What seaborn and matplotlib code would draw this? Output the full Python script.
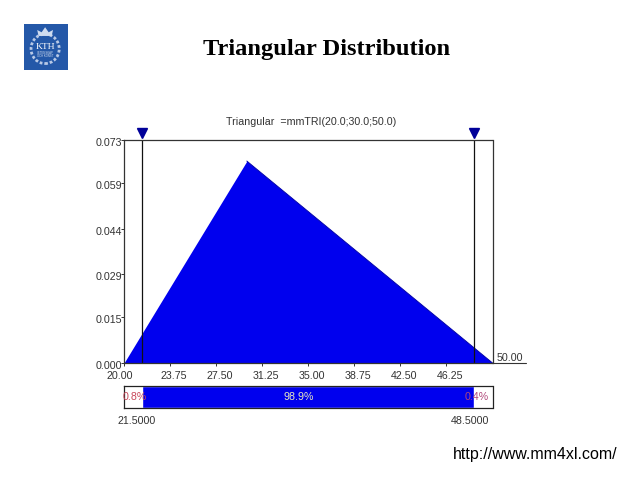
import matplotlib
matplotlib.use("Agg")
import matplotlib.pyplot as plt
from matplotlib.patches import Circle
from matplotlib.transforms import ScaledTranslation
import seaborn as sns
import pandas as pd

pdf_x = [20.0, 30.0, 50.0]
pdf_y = [0.0, 0.0661, 0.0]
cut_low = 21.5
cut_high = 48.5
xticks = [20.0, 23.75, 27.5, 31.25, 35.0, 38.75, 42.5, 46.25]
xlabels = ["20.00", "23.75", "27.50", "31.25", "35.00", "38.75", "42.50", "46.25"]
yticks = [0.0, 0.015, 0.029, 0.044, 0.059, 0.073]
ylabels = ["0.000", "0.015", "0.029", "0.044", "0.059", "0.073"]
band_labels = ["0.8%", "98.9%", "0.4%"]

W, H = 638, 479
BLUE = "#0000ee"
GREY = "#333333"
SMALL = 7.7


def box(l, t, r, b):
    return [l / W, 1 - b / H, (r - l) / W, (b - t) / H]


sns.set_style("white")
plt.rcParams["font.family"] = ["Liberation Sans", "DejaVu Sans"]

fig = plt.figure(figsize=(W / 100, H / 100), dpi=100)

fig.text(327 / W, 1 - 50 / H, "Triangular Distribution", ha="center", va="center",
         family="Liberation Serif", weight="bold", fontsize=17.6, color="black")
fig.text(311 / W, 1 - 122 / H, "Triangular  =mmTRI(20.0;30.0;50.0)", ha="center", va="center",
         fontsize=SMALL, color=GREY)
fig.text(618 / W, 1 - 455 / H, "http://www.mm4xl.com/", ha="right", va="center",
         fontsize=11.5, color="black")

# main plot
ax = fig.add_axes(box(124, 140, 492.5, 363))
df = pd.DataFrame({"x": pdf_x, "y": pdf_y})
ax.fill_between(pdf_x, pdf_y, color=BLUE, linewidth=0)
# only the falling edge looks darker in the original
sns.lineplot(data=df.iloc[1:], x="x", y="y", ax=ax, color="#0000aa", linewidth=0.7, estimator=None, sort=False)
ax.set_xlim(20, 50)
ax.set_ylim(0, 0.073)
ax.set_xlabel("")
ax.set_ylabel("")
ax.set_xticks(xticks)
ax.set_xticklabels(xlabels, fontsize=SMALL, color=GREY)
ax.set_yticks(yticks)
ax.set_yticklabels(ylabels, fontsize=SMALL, color=GREY)
ax.tick_params(axis="x", length=2, width=0.7, pad=4, color=GREY, bottom=True)
ax.tick_params(axis="y", length=2, width=0.7, pad=-1, color=GREY, left=True)
# labels sit a bit off their ticks in the original
shift_r = ScaledTranslation(4 / 100, 0, fig.dpi_scale_trans)
shift_l = ScaledTranslation(-4 / 100, 0, fig.dpi_scale_trans)
shift_d = ScaledTranslation(0, -2 / 100, fig.dpi_scale_trans)
for i, lab in enumerate(ax.get_xticklabels()):
    lab.set_transform(lab.get_transform() + (shift_l if i == 0 else shift_r))
for lab in ax.get_yticklabels():
    lab.set_transform(lab.get_transform() + shift_d)
for s in ax.spines.values():
    s.set_visible(True)
    s.set_color(GREY)
    s.set_linewidth(0.9)

for c in (cut_low, cut_high):
    ax.axvline(c, color="#111111", linewidth=0.9)
    ax.plot([c], [0.0752], marker="v", markersize=7.5, color="#000099", clip_on=False, zorder=5)

ax.plot([50, 52.75], [0, 0], color=GREY, linewidth=0.8, clip_on=False)
ax.text(50.3, 0.0006, "50.00", fontsize=SMALL, color=GREY, va="baseline", ha="left")

# percentage band
ax2 = fig.add_axes(box(124, 386, 492.5, 407.5))
ax2.barh([0], [cut_high - cut_low], left=[cut_low], height=1, color=BLUE)
ax2.set_xlim(20, 50)
ax2.set_ylim(-0.5, 0.5)
ax2.set_xticks([])
ax2.set_yticks([])
for s in ax2.spines.values():
    s.set_visible(True)
    s.set_color("#222222")
    s.set_linewidth(0.9)
ax2.text(20.9, 0, band_labels[0], color="#c8485a", fontsize=SMALL, ha="center", va="center")
ax2.text(34.2, 0, band_labels[1], color="#e8e8c0", fontsize=SMALL, ha="center", va="center")
ax2.text(48.7, 0, band_labels[2], color="#b0487a", fontsize=SMALL, ha="center", va="center")
fig.text(137 / W, 1 - 421.5 / H, f"{cut_low:.4f}", fontsize=SMALL, color=GREY, ha="center", va="center")
fig.text(470 / W, 1 - 421.5 / H, f"{cut_high:.4f}", fontsize=SMALL, color=GREY, ha="center", va="center")

# logo
logo = fig.add_axes(box(24, 24, 68, 70))
logo.set_xlim(0, 1)
logo.set_ylim(0, 1)
logo.set_facecolor("#2458a8")
logo.set_xticks([])
logo.set_yticks([])
for s in logo.spines.values():
    s.set_visible(False)
logo.add_patch(Circle((0.48, 0.46), 0.32, fill=False, ec="#b8c9e6", lw=2.0, ls=(0, (1, 0.7))))
logo.text(0.48, 0.51, "KTH", color="white", family="Liberation Serif", fontsize=6.8, ha="center", va="center")
logo.text(0.48, 0.37, "VETENSKAP", color="#d8e2f2", fontsize=2, ha="center", va="center")
logo.text(0.48, 0.3, "OCH KONST", color="#d8e2f2", fontsize=2, ha="center", va="center")
logo.fill([0.33, 0.3, 0.4, 0.48, 0.56, 0.66, 0.63], [0.74, 0.87, 0.82, 0.93, 0.82, 0.87, 0.74], color="#cfdcf0", lw=0)

fig.savefig("out.png", dpi=100)
